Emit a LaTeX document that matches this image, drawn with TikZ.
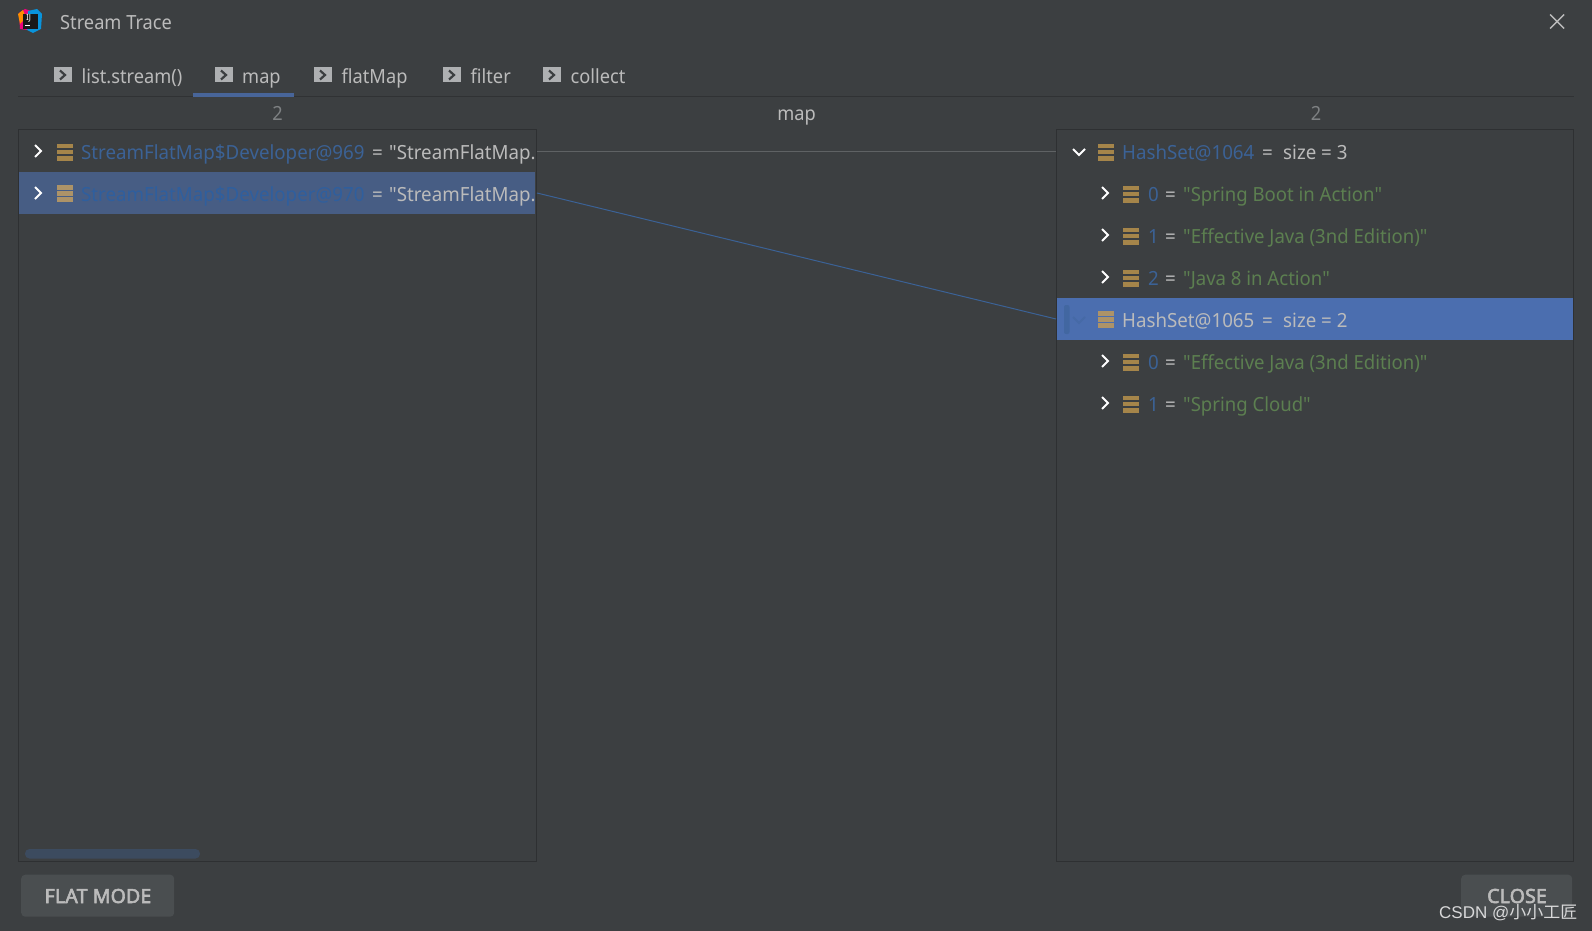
\documentclass[tikz,border=0pt]{standalone}
\usepackage{fontspec}
\newfontfamily\ui[FakeStretch=0.935]{Noto Sans}
\newfontfamily\uirow[FakeStretch=0.96]{Noto Sans}
\newfontfamily\uigrn[FakeStretch=0.952]{Noto Sans}
\newfontfamily\uib[FakeBold=3,LetterSpace=1]{Noto Sans}
\newfontfamily\wm{Liberation Sans}
\newfontfamily\cjkwm{Noto Sans CJK SC}
\definecolor{bgc}{HTML}{3C3F41}
\definecolor{edgec}{HTML}{2E3032}
\definecolor{sepc}{HTML}{303234}
\definecolor{selL}{HTML}{475D84}
\definecolor{selR}{HTML}{4B6EAF}
\definecolor{txtc}{HTML}{BBBBBB}
\definecolor{dimc}{HTML}{7E8183}
\definecolor{linec}{HTML}{5F6264}
\definecolor{bluec}{HTML}{3B6296}
\definecolor{bluesel}{HTML}{2F5F9E}
\definecolor{greenc}{HTML}{5C7F50}
\definecolor{iconc}{HTML}{A5854A}
\definecolor{iconsel}{HTML}{AD9368}
\definecolor{btnc}{HTML}{4A4E50}
\definecolor{tabi}{HTML}{AEB0B2}
\tikzset{
 txt/.style={anchor=base west,inner sep=0pt,font=\ui\fontsize{19.5}{22}\selectfont,text=txtc},
 rowt/.style={txt,font=\uirow\fontsize{19.5}{22}\selectfont},
 ctr/.style={txt,anchor=base},
 blu/.style={rowt,text=bluec},
 grn/.style={txt,font=\uigrn\fontsize{19.5}{22}\selectfont,text=greenc},
 btntxt/.style={ctr,font=\uib\fontsize{19.5}{22}\selectfont,text=txtc},
 panel/.style={draw=edgec,line width=1pt},
 conn/.style={line width=1pt},
 chevline/.style={draw=#1,line width=2pt,line cap=butt,line join=miter},
 pics/stack/.style={code={
   \fill[#1] (-8,-8.5) rectangle (8,-3.6);
   \fill[#1] (-8,-2.4) rectangle (8,2.4);
   \fill[#1] (-8,3.6) rectangle (8,8.5);}},
 pics/chevr/.style={code={\draw[chevline=#1] (-3,-6) -- (3,0) -- (-3,6);}},
 pics/chevd/.style={code={\draw[chevline=#1] (-6,-3) -- (0,3) -- (6,-3);}},
 pics/tabicon/.style={code={
   \fill[tabi] (-9,-7.5) rectangle (9,7.5);
   \draw[bgc,line width=2.2pt] (-3,-4.5) -- (2,0) -- (-3,4.5);}},
}
\newcommand\childrow[4]{%
 \pic at (1105,#2-1) {chevr=white};
 \pic at (1131,#2) {stack=iconc};
 \node[blu] (#1a) at (1148,#2+7) {#3};
 \node[rowt] (#1b) at (1165,#2+7) {=};
 \node[grn] (#1c) at (1183,#2+7) {#4};
}
\begin{document}
\begin{tikzpicture}[x=1pt,y=-1pt]
\useasboundingbox (0,0) rectangle (1592,931);
\fill[bgc] (0,0) rectangle (1592,931);
% logo
\fill[magenta!85!red] (19,13) -- (25,9) -- (31,11) -- (27,30) -- (20,29) -- cycle;
\fill[orange!90!yellow] (18,14) -- (23,10) -- (26,18) -- (20,24) -- cycle;
\fill[cyan!80!blue] (28,11) -- (37,9) -- (42,14) -- (41,29) -- (33,33) -- (27,30) -- cycle;
\fill[black!90] (23,14) rectangle (38,29);
\node[anchor=center,inner sep=0pt,text=white,font=\ui\fontsize{8.5}{8.5}\selectfont] (ij) at (28.5,18.5) {IJ};
\fill[white] (24.5,25.5) rectangle (30,26.5);
% title
\node[txt] (title) at (60,30) {Stream Trace};
\draw[line width=1.4pt,draw=txtc] (1550,14.5) -- (1564,28.5) (1564,14.5) -- (1550,28.5);
% tabs
\foreach \x in {63,224,323,452,552} \pic at (\x,75) {tabicon};
\node[txt] (tab1) at (81.5,84) {list.stream()};
\node[txt] (tab2) at (242,84) {map};
\node[txt] (tab3) at (341.5,84) {flatMap};
\node[txt] (tab4) at (470.5,84) {filter};
\node[txt] (tab5) at (570.5,84) {collect};
\draw[sepc,line width=1pt] (18,97) -- (1574,97);
\fill[selR!80!bgc] (193,93) rectangle (294,97);
% headers
\node[ctr,text=dimc] (cl) at (277.5,121) {2};
\node[ctr] (cm) at (796.5,121) {map};
\node[ctr,text=dimc] (cr) at (1316,121) {2};
% selected rows
\fill[selL] (19,172) rectangle (535,214);
\fill[selR] (1057,298) rectangle (1573,340);
% left panel contents
\pic at (38,151) {chevr=white};
\pic at (38,193) {chevr=white};
\pic at (65,152) {stack=iconc};
\pic at (65,193.5) {stack=iconsel};
\begin{scope}
\clip (18,129) rectangle (534,861);
\node[blu] (l1a) at (81,159) {StreamFlatMap\$Developer@969};
\node[rowt] (l1b) at (372,159) {=};
\node[rowt] (l1c) at (389,159) {"StreamFlatMap.Developer};
\node[blu,text=bluesel] (l2a) at (81,201) {StreamFlatMap\$Developer@970};
\node[rowt] (l2b) at (372,201) {=};
\node[rowt] (l2c) at (389,201) {"StreamFlatMap.Developer};
\end{scope}
% right panel contents
\pic at (1079,152) {chevd=white};
\pic at (1106,152) {stack=iconc};
\node[blu] (r1a) at (1122,159) {HashSet@1064};
\node[rowt] (r1b) at (1262,159) {=};
\node[rowt] (r1c) at (1283,159) {size = 3};
\childrow{r2}{194}{0}{"Spring Boot in Action"}
\childrow{r3}{236}{1}{"Effective Java (3nd Edition)"}
\childrow{r4}{278}{2}{"Java 8 in Action"}
\childrow{r6}{362}{0}{"Effective Java (3nd Edition)"}
\childrow{r7}{404}{1}{"Spring Cloud"}
\fill[selR!45!bluec,rounded corners=2pt] (1064,305) rectangle (1069.5,334);
\pic at (1079,320) {chevd=selR!70!bluec};
\pic at (1106,319.5) {stack=iconsel};
\node[rowt] (r5a) at (1122,327) {HashSet@1065};
\node[rowt] (r5b) at (1262,327) {=};
\node[rowt] (r5c) at (1283,327) {size = 2};
% panels
\node[panel,minimum width=518pt,minimum height=732pt,inner sep=0pt,anchor=north west] (pl) at (18,129) {};
\node[panel,minimum width=517pt,minimum height=732pt,inner sep=0pt,anchor=north west] (pr) at (1056,129) {};
% connectors
\coordinate (a1) at (pl.east |- 0,151.5);
\coordinate (a2) at (pl.east |- 0,193);
\coordinate (b1) at (pr.west |- 0,151.5);
\coordinate (b2) at (pr.west |- 0,319);
\draw[line width=1.4pt,draw=linec] (a1) -- (b1);
\draw[conn,draw=bluec] (a2) -- (b2);
% scrollbar
\fill[bluec!35!bgc,rounded corners=4.5pt] (25,849) rectangle (200,858.5);
% buttons
\node[fill=btnc,rounded corners=4pt,minimum width=153pt,minimum height=42pt,inner sep=0pt,anchor=north west] (flat) at (21,874.5) {};
\node[btntxt] (flatt) at (98,903) {FLAT MODE};
\node[fill=btnc,rounded corners=4pt,minimum width=111pt,minimum height=42pt,inner sep=0pt,anchor=north west] (closeb) at (1461,874.5) {};
\node[btntxt] (closet) at (1517,903) {CLOSE};
% watermark
\node[anchor=base west,inner sep=0pt,text=white!80!bgc,font=\wm\fontsize{17}{20}\selectfont] (wm) at (1439,918) {CSDN @{\cjkwm 小小工匠}};
\end{tikzpicture}
\end{document}
